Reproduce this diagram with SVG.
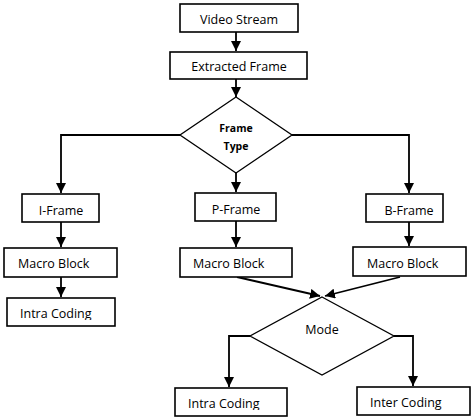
<svg xmlns="http://www.w3.org/2000/svg" width="474" height="418" viewBox="0 0 474 418">
<style>
.box{fill:#fff;stroke:#000;stroke-width:1.6}
.dia{fill:#fff;stroke:#000;stroke-width:1.3}
.t{font-family:"Open Sans","Liberation Sans",Arial,sans-serif;font-size:12.5px;fill:#000}
.c{text-anchor:middle}
.b{font-weight:bold;font-size:10.5px}
.ln{fill:none;stroke:#000;stroke-width:1.8}
</style>
<defs>
<marker id="ah" viewBox="0 0 10 10" refX="10" refY="5" markerWidth="10" markerHeight="10" markerUnits="userSpaceOnUse" orient="auto">
<path d="M0,0 L10,5 L0,10 z" fill="#000"/>
</marker>
<clipPath id="clipL"><rect x="0" y="290" width="130" height="30"/></clipPath>
<clipPath id="clipB"><rect x="170" y="380" width="130" height="30"/></clipPath>
</defs>
<rect width="474" height="418" fill="#fff"/>
<g id="connectors">
<line class="ln" x1="236" y1="32" x2="236" y2="51" marker-end="url(#ah)"/>
<line class="ln" x1="236" y1="79" x2="236" y2="97" marker-end="url(#ah)"/>
<polyline class="ln" points="180,135 61,135 61,193" marker-end="url(#ah)"/>
<polyline class="ln" points="292,135 409,135 409,193" marker-end="url(#ah)"/>
<line class="ln" x1="236" y1="173" x2="236" y2="192" marker-end="url(#ah)"/>
<line class="ln" x1="61" y1="222" x2="61" y2="247" marker-end="url(#ah)"/>
<line class="ln" x1="236" y1="221" x2="236" y2="247" marker-end="url(#ah)"/>
<line class="ln" x1="409" y1="222" x2="409" y2="246" marker-end="url(#ah)"/>
<line class="ln" x1="61" y1="277" x2="61" y2="297" marker-end="url(#ah)"/>
<line class="ln" x1="237" y1="277" x2="320" y2="296" marker-end="url(#ah)"/>
<line class="ln" x1="400" y1="277" x2="325" y2="296" marker-end="url(#ah)"/>
<polyline class="ln" points="250,336 229,336 229,387" marker-end="url(#ah)"/>
<polyline class="ln" points="394,336 413,336 413,386" marker-end="url(#ah)"/>
</g>
<g id="video-stream"><rect class="box" x="180" y="4" width="118" height="28"/><text class="t c" x="239" y="24">Video Stream</text></g>
<g id="extracted-frame"><rect class="box" x="170" y="52" width="137" height="27"/><text class="t c" x="239" y="71">Extracted Frame</text></g>
<g id="frame-type"><polygon class="dia" points="236,97 292,135 236,173 180,135"/><text class="t c b" x="236" y="132">Frame</text><text class="t c b" x="236" y="150">Type</text></g>
<g id="i-frame"><rect class="box" x="22" y="194" width="77" height="28"/><text class="t c" x="61" y="215">I-Frame</text></g>
<g id="p-frame"><rect class="box" x="195" y="193" width="81" height="28"/><text class="t c" x="236" y="214">P-Frame</text></g>
<g id="b-frame"><rect class="box" x="366" y="194" width="77" height="28"/><text class="t c" x="409" y="215">B-Frame</text></g>
<g id="macro-i"><rect class="box" x="4" y="248" width="113" height="29"/><text class="t" x="18" y="268">Macro Block</text></g>
<g id="macro-p"><rect class="box" x="180" y="248" width="112" height="29"/><text class="t" x="193" y="268">Macro Block</text></g>
<g id="macro-b"><rect class="box" x="353" y="247" width="113" height="29"/><text class="t" x="367" y="268">Macro Block</text></g>
<g id="intra-coding-i"><rect class="box" x="7" y="298" width="108" height="28"/><text class="t" x="20" y="318" clip-path="url(#clipL)">Intra Coding</text></g>
<g id="mode"><polygon class="dia" points="322,297 394,336 322,375 250,336"/><text class="t c" x="322" y="334">Mode</text></g>
<g id="intra-coding"><rect class="box" x="175" y="388" width="112" height="28"/><text class="t" x="188" y="408" clip-path="url(#clipB)">Intra Coding</text></g>
<g id="inter-coding"><rect class="box" x="357" y="387" width="113" height="28"/><text class="t" x="370" y="407">Inter Coding</text></g>
</svg>
